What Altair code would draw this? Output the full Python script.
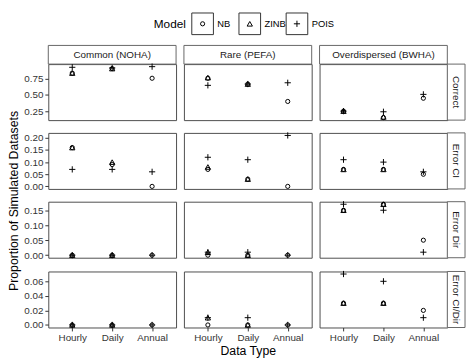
import altair as alt
import pandas as pd

species = ["Common (NOHA)", "Rare (PEFA)", "Overdispersed (BWHA)"]
metrics = ["Correct", "Error CI", "Error Dir", "Error CI/Dir"]
data_types = ["Hourly", "Daily", "Annual"]
models = ["NB", "ZINB", "POIS"]

# proportion of simulated datasets: per metric, one list per species (Hourly, Daily, Annual)
nb_values = {
    "Correct":      [[0.84, 0.91, 0.76], [0.76, 0.67, 0.40], [0.25, 0.15, 0.45]],
    "Error CI":     [[0.16, 0.09, 0.00], [0.07, 0.03, 0.00], [0.07, 0.07, 0.05]],
    "Error Dir":    [[0.00, 0.00, 0.00], [0.00, 0.00, 0.00], [0.15, 0.17, 0.05]],
    "Error CI/Dir": [[0.00, 0.00, 0.00], [0.00, 0.00, 0.00], [0.03, 0.03, 0.02]],
}
zinb_values = {
    "Correct":      [[0.84, 0.91, None], [0.77, 0.67, None], [0.25, 0.16, None]],
    "Error CI":     [[0.16, 0.10, None], [0.08, 0.03, None], [0.07, 0.07, None]],
    "Error Dir":    [[0.00, 0.00, None], [0.01, 0.00, None], [0.15, 0.17, None]],
    "Error CI/Dir": [[0.00, 0.00, None], [0.01, 0.00, None], [0.03, 0.03, None]],
}
pois_values = {
    "Correct":      [[0.93, 0.92, 0.94], [0.65, 0.67, 0.69], [0.25, 0.24, 0.51]],
    "Error CI":     [[0.07, 0.07, 0.06], [0.12, 0.11, 0.21], [0.11, 0.10, 0.06]],
    "Error Dir":    [[0.00, 0.00, 0.00], [0.01, 0.01, 0.00], [0.17, 0.15, 0.01]],
    "Error CI/Dir": [[0.00, 0.00, 0.00], [0.01, 0.01, 0.00], [0.07, 0.06, 0.01]],
}
y_ticks = {
    "Correct": [0.25, 0.50, 0.75],
    "Error CI": [0.00, 0.05, 0.10, 0.15, 0.20],
    "Error Dir": [0.00, 0.05, 0.10, 0.15],
    "Error CI/Dir": [0.00, 0.02, 0.04, 0.06],
}

FONT = "Liberation Sans"
W, H, G, RG = 130, 57, 6, 6   # panel width/height, column gap, row gap
SH, RS = 19, 18               # strip sizes

rows = []
for model, table in zip(models, [nb_values, zinb_values, pois_values]):
    for m in metrics:
        for si, sp in enumerate(species):
            for di, dt in enumerate(data_types):
                v = table[m][si][di]
                if v is not None:
                    rows.append({"model": model, "metric": m, "species": sp,
                                 "datatype": dt, "value": v})
df = pd.DataFrame(rows)

domains = {}
for m in metrics:
    vals = df.loc[df.metric == m, "value"]
    lo, hi = vals.min(), vals.max()
    pad = 0.05 * (hi - lo)
    domains[m] = [lo - pad, hi + pad]

shape_scale = alt.Scale(domain=models, range=["circle", "triangle-up", "M-1,0L1,0M0,-1L0,1"])
size_scale = alt.Scale(domain=models, range=[30, 48, 72])


def panel(mi, si):
    m, sp = metrics[mi], species[si]
    sub = df[(df.metric == m) & (df.species == sp)]
    if si == 0:
        y_axis = alt.Axis(values=y_ticks[m], format=".2f", title=None)
    else:
        y_axis = None
    if mi == len(metrics) - 1:
        x_axis = alt.Axis(title="Data Type" if si == 1 else None, labelAngle=0)
    else:
        x_axis = None
    pts = alt.Chart(sub).mark_point(filled=False, color="black", strokeWidth=1, opacity=1).encode(
        x=alt.X("datatype:N", sort=data_types, scale=alt.Scale(type="point", padding=0.6), axis=x_axis),
        y=alt.Y("value:Q", scale=alt.Scale(domain=domains[m], nice=False, zero=False), axis=y_axis),
        shape=alt.Shape("model:N", scale=shape_scale, legend=None),
        size=alt.Size("model:N", scale=size_scale, legend=None),
    )
    layers = []
    if mi == 0:
        sdf = pd.DataFrame({"label": [sp]})
        layers.append(alt.Chart(sdf).mark_rect(fill="white", stroke="#666666", strokeWidth=1).encode(
            x=alt.value(0), x2=alt.value(W), y=alt.value(-SH), y2=alt.value(0)))
        layers.append(alt.Chart(sdf).mark_text(font=FONT, fontSize=10, color="#1a1a1a", baseline="middle").encode(
            x=alt.value(W / 2), y=alt.value(-SH / 2), text="label:N"))
    if si == len(species) - 1:
        rdf = pd.DataFrame({"label": [m]})
        layers.append(alt.Chart(rdf).mark_rect(fill="white", stroke="#666666", strokeWidth=1).encode(
            x=alt.value(W), x2=alt.value(W + RS), y=alt.value(0), y2=alt.value(H)))
        layers.append(alt.Chart(rdf).mark_text(font=FONT, fontSize=10, color="#1a1a1a", angle=90,
                                               baseline="middle").encode(
            x=alt.value(W + RS / 2), y=alt.value(H / 2), text="label:N"))
    layers.append(pts)
    return alt.layer(*layers).properties(width=W, height=H)


grid_rows = [alt.hconcat(*[panel(mi, si) for si in range(len(species))], spacing=G)
             for mi in range(len(metrics))]
grid = alt.vconcat(*grid_rows, spacing=RG).properties(
    title=alt.TitleParams("Proportion of Simulated Datasets", orient="left", anchor="middle",
                          font=FONT, fontSize=12.5, fontWeight="normal", color="black", offset=3)
)

# manual legend with boxed keys, centred over the panels (key slot index on a linear scale)
WL = 3 * W + 2 * G
step = 48
first_key = WL / 2 - step + 4
slot_lo = -first_key / step
slot_hi = slot_lo + WL / step
leg_df = pd.DataFrame({"model": models})
model_list = "[" + ",".join("'%s'" % m for m in models) + "]"
lx = alt.X("slot:Q", axis=None, scale=alt.Scale(domain=[slot_lo, slot_hi], nice=False, zero=False))
base = alt.Chart(leg_df).transform_calculate(slot="indexof(%s, datum.model)" % model_list)
boxes = base.mark_point(shape="square", size=484, filled=False, color="#333333",
                        strokeWidth=1, opacity=1).encode(x=lx, y=alt.value(11))
syms = base.mark_point(filled=False, color="black", strokeWidth=1, opacity=1).encode(
    x=lx, y=alt.value(11),
    shape=alt.Shape("model:N", scale=shape_scale, legend=None),
    size=alt.Size("model:N", scale=alt.Scale(domain=models, range=[18, 40, 64]), legend=None))
labels = base.mark_text(align="left", dx=15, font=FONT, fontSize=9.5, color="black",
                        baseline="middle").encode(x=lx, y=alt.value(11), text="model:N")
title_df = pd.DataFrame({"model": ["NB"], "t": ["Model"]})
ltitle = alt.Chart(title_df).transform_calculate(slot="indexof(%s, datum.model)" % model_list).mark_text(
    align="right", dx=-17, font=FONT, fontSize=12, color="black", baseline="middle"
).encode(x=lx, y=alt.value(11), text="t:N")
legend = alt.layer(boxes, syms, labels, ltitle).properties(
    width=WL, height=22, view=alt.ViewBackground(strokeWidth=0))

chart = alt.vconcat(legend, grid, spacing=8).properties(padding=0).configure_view(
    stroke="#4d4d4d", strokeWidth=1
).configure_axis(
    labelFont=FONT, labelFontSize=10, labelColor="#333333", tickColor="#333333", tickSize=3.5,
    domain=False, grid=False, labelPadding=2, titleFont=FONT, titleFontSize=12.5,
    titleFontWeight="normal", titleColor="black", titlePadding=2
)

chart.save("out.html", embed_options={"renderer": "svg", "actions": False})
